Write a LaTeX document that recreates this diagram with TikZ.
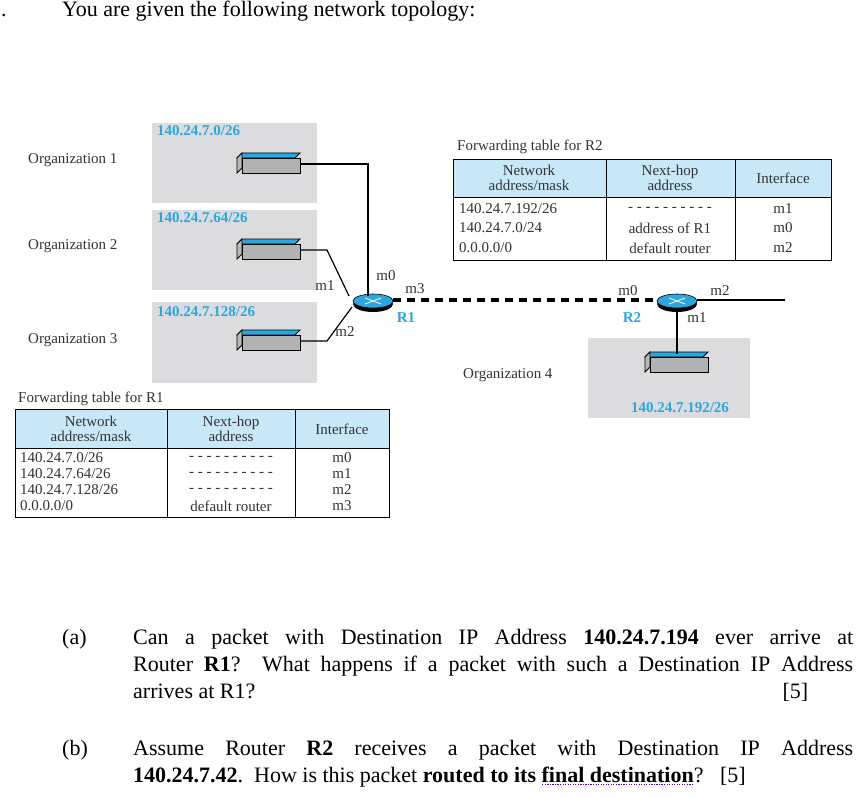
\documentclass[tikz,border=0pt]{standalone}
\usepackage{fontspec}
\setmainfont{Liberation Serif}
\newcommand\mydotul[1]{\leavevmode\setbox0\hbox{#1}\rlap{\raisebox{-3pt}{\hbox to \wd0{\color{violet!70!blue}\xleaders\hbox to 2.5pt{\hss\rule{1.2pt}{1.2pt}\hss}\hfill}}}\box0}
\newcommand\jline[1]{\hbox to 720pt{#1}}
\definecolor{orgblue}{HTML}{29A8E0}
\definecolor{boxgray}{HTML}{DCDCDE}
\definecolor{hdrblue}{HTML}{C8E8F8}
\definecolor{txtgray}{HTML}{333333}
\begin{document}
\begin{tikzpicture}[x=1pt,y=-1pt,
  lbl/.style={font=\fontsize{15}{15.5}\selectfont, text=txtgray, inner sep=0pt},
  net/.style={font=\fontsize{15}{16}\selectfont\bfseries, text=orgblue, anchor=west, inner sep=0pt},
  orgbox/.style={fill=boxgray, draw=none},
  link/.style={line width=1.2pt, black},
  qtext/.style={font=\fontsize{22}{27}\selectfont, inner sep=0pt, anchor=base west}]
\useasboundingbox (0,0) rectangle (862,797);
\fill[white] (0,0) rectangle (862,797);
% header
\node[qtext] (dot) at (1,17) {.};
\node[qtext] (hdr) at (62,17) {You are given the following network topology:};
% org boxes
\fill[orgbox] (152,123) rectangle (317,203);
\fill[orgbox] (152,210) rectangle (317,290);
\fill[orgbox] (152,302) rectangle (317,383);
\fill[orgbox] (588,338) rectangle (750,418);
\node[net] (n1) at (157,131) {140.24.7.0/26};
\node[net] (n2) at (157,218) {140.24.7.64/26};
\node[net] (n3) at (157,312) {140.24.7.128/26};
\node[net,anchor=center] (n4) at (680,408) {140.24.7.192/26};
\node[lbl,anchor=west] (o1) at (28,160) {Organization 1};
\node[lbl,anchor=west] (o2) at (28,246) {Organization 2};
\node[lbl,anchor=west] (o3) at (28,340) {Organization 3};
\node[lbl,anchor=west] (o4) at (463,375) {Organization 4};
% switches
\foreach \n/\x/\y in {s1/237/153, s2/237/239, s3/237/330, s4/645/352}{
  \fill[orgblue,draw=black,line width=0.8pt] (\x,\y+5) -- (\x+5,\y) -- (\x+63,\y) -- (\x+58,\y+5) -- cycle;
  \fill[gray!55,draw=black,line width=0.8pt] (\x,\y+5) -- (\x+5,\y) -- (\x+5,\y+15) -- (\x,\y+20) -- cycle;
  \fill[gray!60,draw=black,line width=0.8pt] (\x+5,\y+5) rectangle (\x+63,\y+20);
  \coordinate (\n) at (\x+63,\y+11);
  \coordinate (\n t) at (\x+32,\y+2);
}
% routers
\foreach \n/\x in {R1/373, R2/677}{
  \fill[black] (\x,304) ellipse (20 and 8);
  \fill[orgblue,draw=black,line width=0.6pt] (\x,301) ellipse (20 and 7);
  \draw[white,line width=0.8pt] (\x-8,298) -- (\x+8,304) (\x-8,304) -- (\x+8,298);
  \coordinate (\n) at (\x,301);
}
\coordinate (R1e) at (393,300);
\coordinate (R2w) at (657,300);
\coordinate (R2e) at (697,300);
\coordinate (far) at (785,300);
\draw[link] (s1) -- (368,164) -- (368,296);
\draw[link] (s2) -- (327,250) -- (349,296);
\draw[link] (s3) -- (327,341) -- (352,307);
\draw[line width=3.5pt, dash pattern=on 8pt off 6pt] (R1e) -- (R2w);
\draw[link] (R2e) -- (far);
\draw[link] (677,309) -- (s4t);
\node[lbl] (l1) at (325,286) {m1};
\node[lbl] (l0) at (386,276) {m0};
\node[lbl] (l3) at (415,289) {m3};
\node[lbl] (l2) at (345,332) {m2};
\node[net,anchor=center] (r1l) at (406,318) {R1};
\node[lbl] (k0) at (628,291) {m0};
\node[lbl] (k2) at (720,291) {m2};
\node[lbl] (k1) at (697,318) {m1};
\node[net,anchor=center] (r2l) at (632,318) {R2};
% R2 table
\node[lbl,anchor=west] (t2) at (457,147) {Forwarding table for R2};
\fill[hdrblue] (453,160) rectangle (831,197);
\draw[line width=1pt] (453,160) rectangle (831,260) (453,197) -- (831,197) (606,160) -- (606,260) (735,160) -- (735,260);
\node[lbl,align=center] (h21) at (529,178) {Network\\address/mask};
\node[lbl,align=center] (h22) at (670,178) {Next-hop\\address};
\node[lbl] (h23) at (783,178) {Interface};
\node[lbl,anchor=west] (a1) at (459,209) {140.24.7.192/26};
\node[lbl,anchor=west] (a2) at (459,228) {140.24.7.0/24};
\node[lbl,anchor=west] (a3) at (459,248) {0.0.0.0/0};
\node[lbl] (b1) at (670,209) {- - - - - - - - - -};
\node[lbl] (b2) at (670,228) {address of R1};
\node[lbl] (b3) at (670,248) {default router};
\node[lbl] (c1) at (783,209) {m1};
\node[lbl] (c2) at (783,228) {m0};
\node[lbl] (c3) at (783,248) {m2};
% R1 table
\node[lbl,anchor=west] (t1) at (18,399) {Forwarding table for R1};
\fill[hdrblue] (15,409) rectangle (389,448);
\draw[line width=1pt] (15,409) rectangle (389,517) (15,448) -- (389,448) (167,409) -- (167,517) (295,409) -- (295,517);
\node[lbl,align=center] (h11) at (91,429) {Network\\address/mask};
\node[lbl,align=center] (h12) at (231,429) {Next-hop\\address};
\node[lbl] (h13) at (342,429) {Interface};
\node[lbl,anchor=west] (d1) at (20,458) {140.24.7.0/26};
\node[lbl,anchor=west] (d2) at (20,474) {140.24.7.64/26};
\node[lbl,anchor=west] (d3) at (20,490) {140.24.7.128/26};
\node[lbl,anchor=west] (d4) at (20,506) {0.0.0.0/0};
\node[lbl] (e1) at (231,458) {- - - - - - - - - -};
\node[lbl] (e2) at (231,474) {- - - - - - - - - -};
\node[lbl] (e3) at (231,490) {- - - - - - - - - -};
\node[lbl] (e4) at (231,506) {default router};
\node[lbl] (f1) at (342,458) {m0};
\node[lbl] (f2) at (342,474) {m1};
\node[lbl] (f3) at (342,490) {m2};
\node[lbl] (f4) at (342,506) {m3};
% questions
\node[qtext] (qa) at (62,644) {(a)};
\node[qtext] (qa1) at (133,644) {\jline{Can a packet with Destination IP Address \textbf{140.24.7.194} ever arrive at}};
\node[qtext] (qa2) at (133,671) {\jline{Router \textbf{R1}?\ \ What happens if a packet with such a Destination IP Address}};
\node[qtext] (qa3) at (133,698) {\hbox to 675pt{arrives at R1?\hfill[5]}};
\node[qtext] (qb) at (62,755) {(b)};
\node[qtext] (qb1) at (133,755) {\jline{Assume Router \textbf{R2} receives a packet with Destination IP Address}};
\node[qtext] (qb2) at (133,782) {\textbf{140.24.7.42}.\ \ How is this packet \textbf{routed to its \mydotul{final destination}}?\ \ \ [5]};
\end{tikzpicture}
\end{document}
